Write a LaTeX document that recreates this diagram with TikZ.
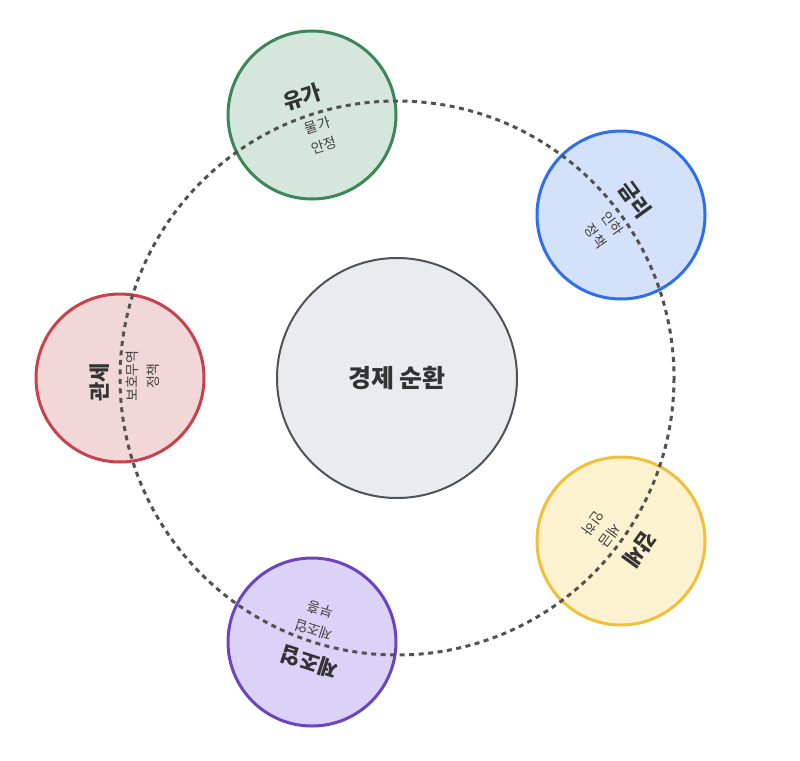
\documentclass[tikz,border=0pt]{standalone}
\usepackage{fontspec}
\setmainfont{Noto Sans CJK KR}
\begin{document}
\begin{tikzpicture}[x=1pt,y=-1pt,
  bub/.style={circle,minimum size=168pt,inner sep=0pt,line width=3pt},
  ttl/.style={transform shape,font=\fontsize{21}{21}\selectfont\bfseries,text=black!80},
  sub/.style={transform shape,font=\fontsize{14}{14}\selectfont,text=black!75}]
\definecolor{gF}{HTML}{D5E7DD}\definecolor{gS}{HTML}{3C8658}
\definecolor{bF}{HTML}{D3E1FA}\definecolor{bS}{HTML}{2F6FED}
\definecolor{yF}{HTML}{FDF2D0}\definecolor{yS}{HTML}{F2BF3C}
\definecolor{pF}{HTML}{DCD2F8}\definecolor{pS}{HTML}{6A44C2}
\definecolor{rF}{HTML}{F2D7D9}\definecolor{rS}{HTML}{C8424B}
\definecolor{cF}{HTML}{E9EBEF}\definecolor{cS}{HTML}{4E535A}
\useasboundingbox[fill=white] (0,0) rectangle (800,760);
\node[bub,minimum size=240pt,draw=cS,fill=cF,line width=2pt,font=\fontsize{25}{25}\selectfont\bfseries,text=black!80] (c) at (397,378) {경제 순환};
\node[bub,draw=gS,fill=gF] (g) at (312,115) {};
\node[bub,draw=bS,fill=bF] (b) at (621,215) {};
\node[bub,draw=yS,fill=yF] (yl) at (621,541) {};
\node[bub,draw=pS,fill=pF] (p) at (312,642) {};
\node[bub,draw=rS,fill=rF] (r) at (120,378) {};
\draw[line width=3pt,color=black!68,dash pattern=on 5pt off 4.5pt] (c.center) circle[radius=277];
\foreach \n/\a/\t/\s/\u in {g/18/유가/물가/안정, b/-54/금리/인하/정책, yl/-126/감세/세금/인하, p/162/제조업/제조업/부흥, r/90/관세/보호무역/정책}{
  \begin{scope}[shift={(\n.center)},rotate=\a]
    \node[ttl] (\n t) at (-4,-20) {\t};
    \node[sub] (\n a) at (2,12) {\s};
    \node[sub] (\n b) at (2,33) {\u};
  \end{scope}}
\end{tikzpicture}
\end{document}
